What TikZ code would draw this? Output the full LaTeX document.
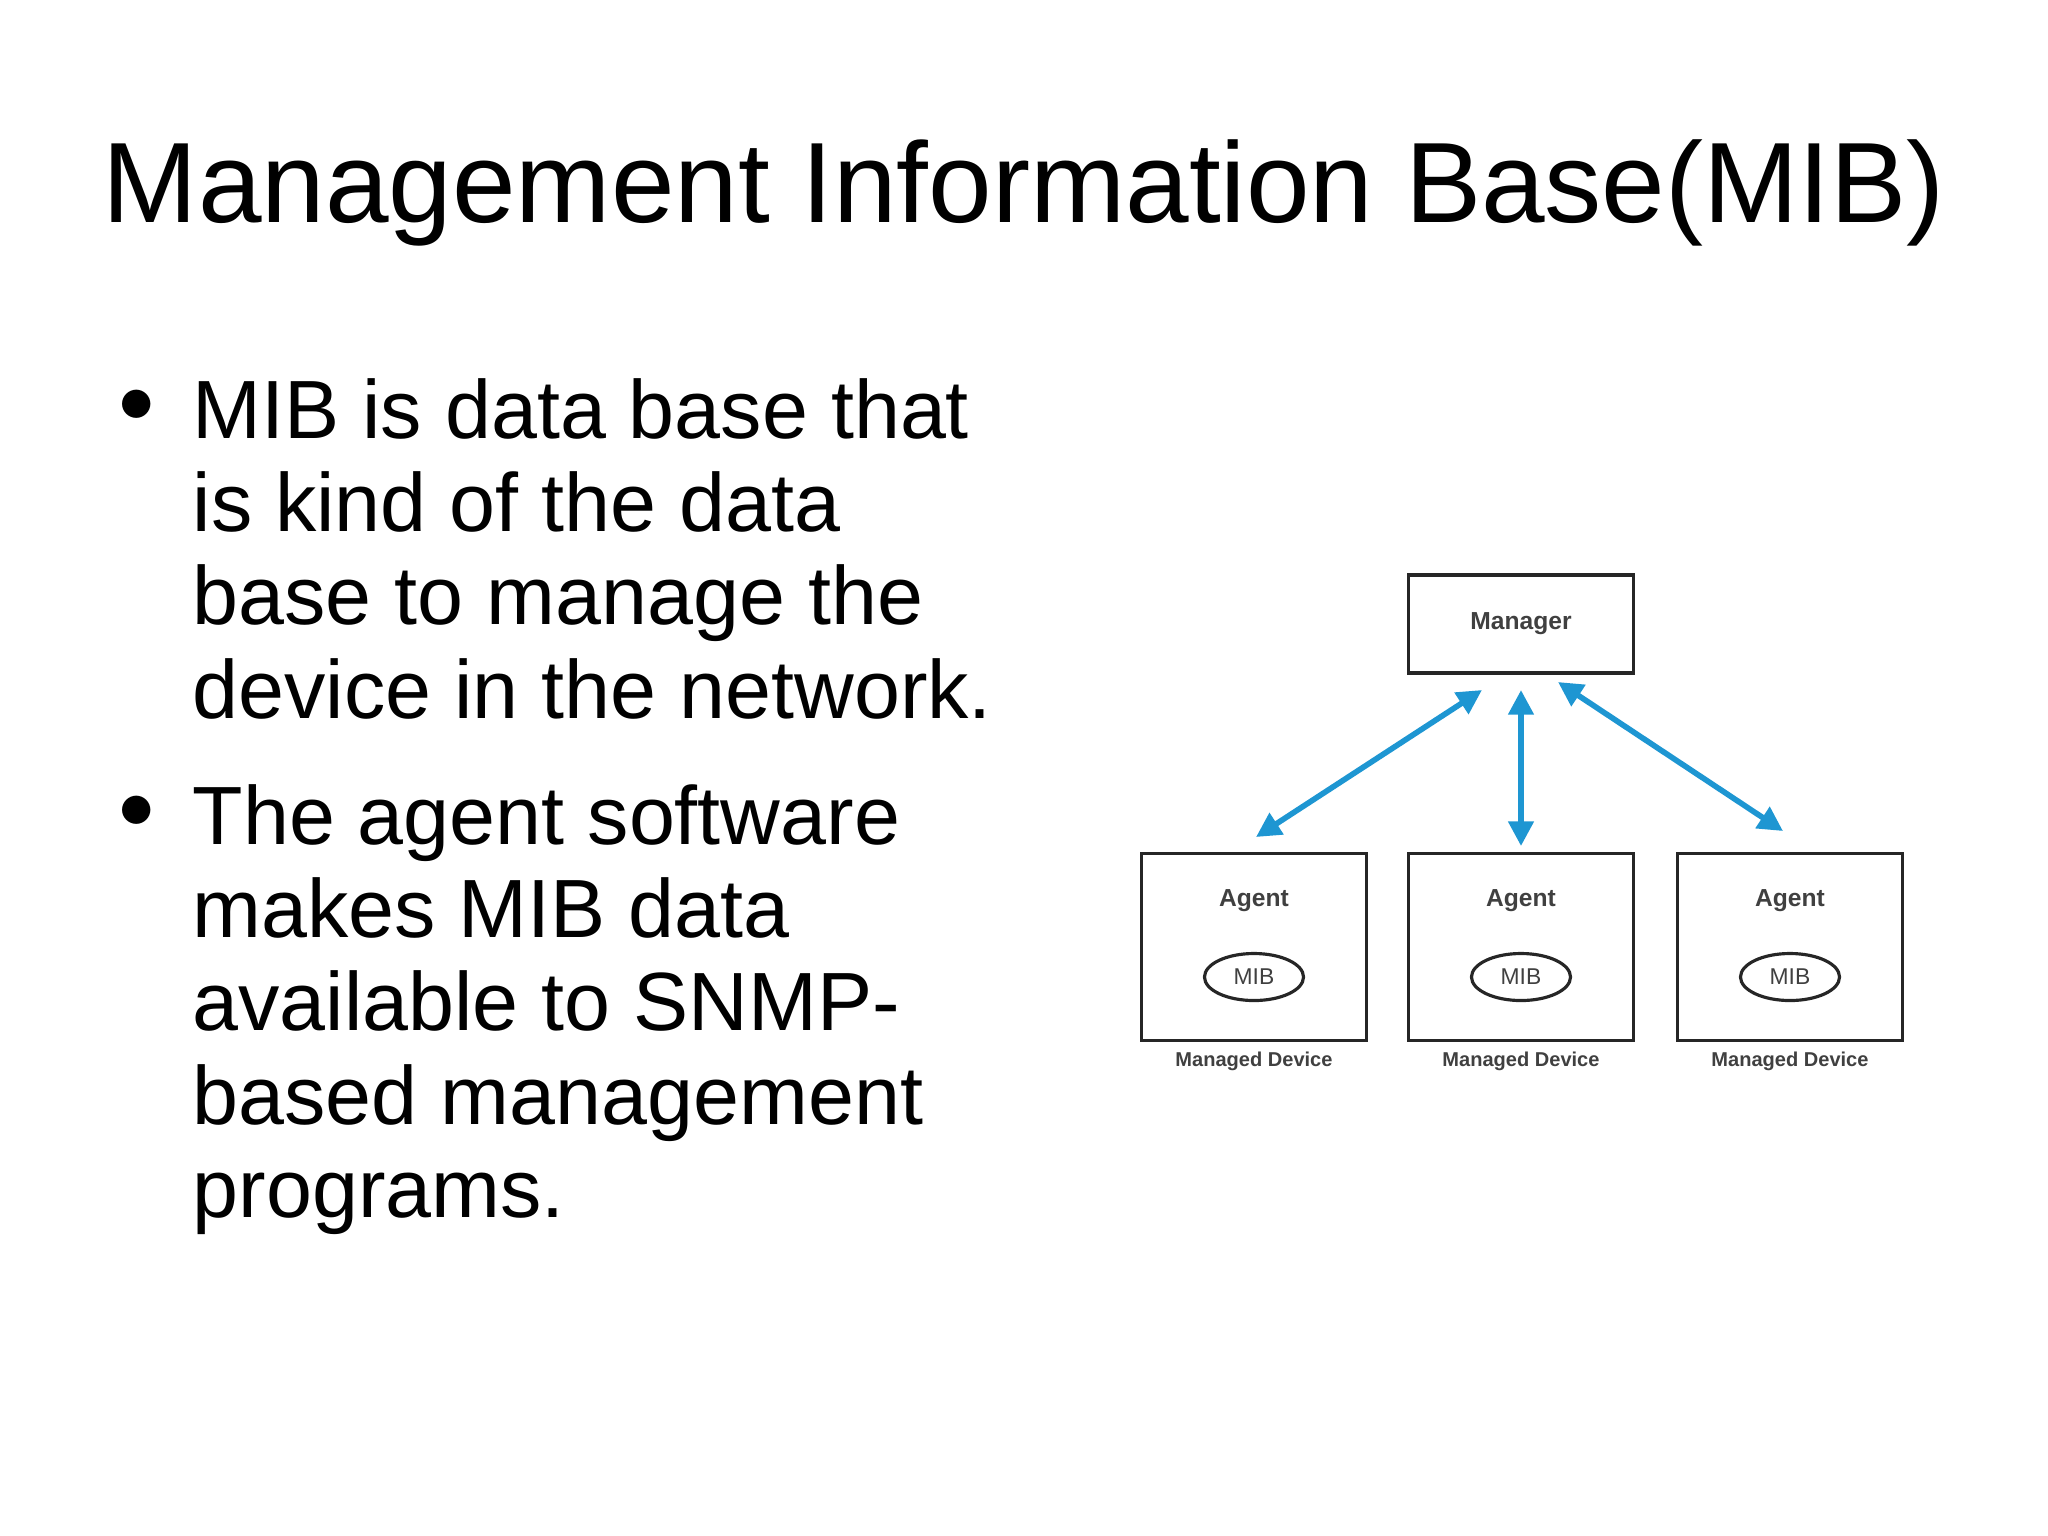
\documentclass[tikz,border=0pt]{standalone}
\usepackage{fontspec}
\setmainfont{Liberation Sans}
\usetikzlibrary{arrows.meta,positioning,shapes.geometric}
\definecolor{linkblue}{RGB}{30,150,210}
\tikzset{
  box/.style={draw=black!85,line width=1pt,minimum width=2.25cm,minimum height=1.87cm,inner sep=0pt},
  mib/.style={draw=black!85,ellipse,line width=0.9pt,minimum width=0.99cm,minimum height=0.47cm,inner sep=0pt,font=\fontsize{6.5}{8}\selectfont,text=black!75},
  small/.style={font=\bfseries\fontsize{7}{9}\selectfont,text=black!75},
  link/.style={linkblue,line width=1.6pt,{Triangle[length=7pt,width=7pt]}-{Triangle[length=7pt,width=7pt]}},
  bullet/.style={anchor=north west,align=left,inner sep=0pt,font=\fontsize{23.5}{26.5}\selectfont}
}
\begin{document}
\begin{tikzpicture}[x=0.01cm,y=-0.01cm]
        \useasboundingbox (0,0) rectangle (2048,1535);

        %%%%%%%%% Titolo %%%%%%%%%
        \node[font=\fontsize{32.5}{36}\selectfont] (title) at (1024,193) {Management Information Base(MIB)};

        %%%%%%%%% Punti %%%%%%%%%
        \node[bullet] (t1) at (192,378) {MIB is data base that\\is kind of the data\\base to manage the\\device in the network.};
        \node[bullet] (t2) at (192,784) {The agent software\\makes MIB data\\available to SNMP-\\based management\\programs.};
        \node[font=\fontsize{22}{22}\selectfont,anchor=north] (b1) at (137,378) {$\bullet$};
        \node[font=\fontsize{22}{22}\selectfont,anchor=north] (b2) at (137,784) {$\bullet$};

        %%%%%%%%% Manager %%%%%%%%%
        \node[box,minimum height=0.98cm,font=\bfseries\fontsize{7}{9}\selectfont,text=black!75] (mgr) at (1521,624) {Manager};

        %%%%%%%%% Agenti %%%%%%%%%
        \foreach \i/\x in {1/1254,2/1521,3/1790}{
            \node[box] (ag\i) at (\x,947) {};
            \node[small] (lab\i) at (\x,901) {Agent};
            \node[mib] (mib\i) at (\x,977) {MIB};
            \node[small,font=\bfseries\fontsize{5.7}{7}\selectfont] (dev\i) at (\x,1061) {Managed Device};
        }

        %%%%%%%%% Frecce %%%%%%%%%
        \coordinate (s1) at (1482,690);
        \coordinate (e1) at (1256,837);
        \coordinate (s2) at (1521,690);
        \coordinate (e2) at (1521,846);
        \coordinate (s3) at (1558,682);
        \coordinate (e3) at (1783,831);
        \draw[link] (s1) -- (e1);
        \draw[link] (s2) -- (e2);
        \draw[link] (s3) -- (e3);
\end{tikzpicture}
\end{document}
